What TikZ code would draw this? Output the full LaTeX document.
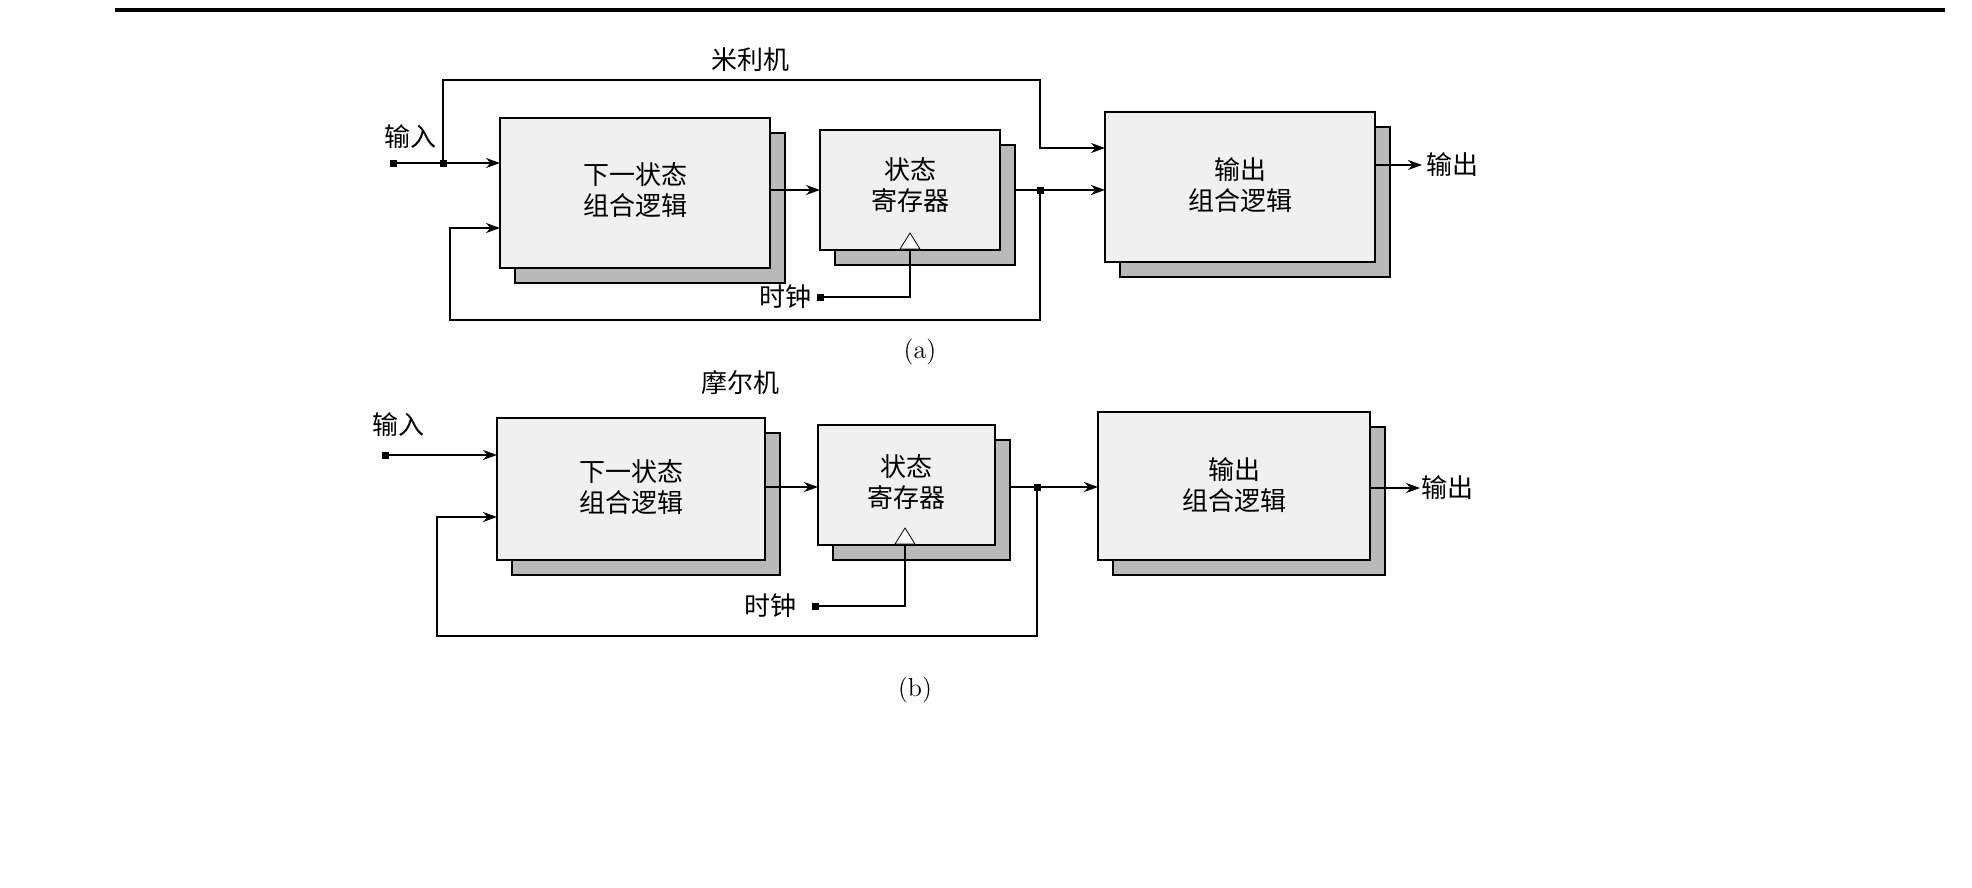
\documentclass[tikz,border=0pt]{standalone}
\usepackage{fontspec}
\newfontfamily\cjk{Noto Sans CJK SC}
\usetikzlibrary{arrows.meta,shapes.geometric}
\begin{document}
\begin{tikzpicture}[x=0.5pt,y=-0.5pt,
  lbl/.style={font=\cjk\fontsize{13}{15.5}\selectfont,inner sep=0pt,align=center},
  front/.style={draw,line width=0.8pt,fill=gray!12},
  shadow/.style={draw,line width=0.8pt,fill=gray!55},
  wire/.style={line width=0.9pt},
  arr/.style={wire,-{Stealth[length=7pt,width=5pt]}},
  sq/.style={draw,fill=black,minimum size=3pt,inner sep=0pt},
  clk/.style={draw,fill=white,isosceles triangle,shape border rotate=90,isosceles triangle stretches,minimum height=8pt,minimum width=10pt,inner sep=0pt}]
\useasboundingbox (0,0) rectangle (1972,888);
\fill[white] (0,0) rectangle (1972,888);
\draw[line width=2pt] (115,10) -- (1945,10);
% ---------- (a)
\node[lbl] (ta) at (750,60) {米利机};
\draw[shadow] (515,133) rectangle (785,283);
\draw[front] (500,118) rectangle (770,268);
\node[lbl] (ns1) at (635,190) {下一状态\\组合逻辑};
\draw[shadow] (835,145) rectangle (1015,265);
\draw[front] (820,130) rectangle (1000,250);
\node[lbl] (sr1) at (910,185) {状态\\寄存器};
\draw[shadow] (1120,127) rectangle (1390,277);
\draw[front] (1105,112) rectangle (1375,262);
\node[lbl] (ol1) at (1240,185) {输出\\组合逻辑};
\node[clk,anchor=north] (tr1) at (910,232) {};
\node[lbl] (in1) at (410,137) {输入};
\node[sq] (is1) at (393,163) {};
\node[sq] (j1) at (443,163) {};
\draw[arr] (is1) -- (500,163);
\draw[arr] (j1) -- (443,80) -- (1040,80) -- (1040,148) -- (1105,148);
\draw[arr] (770,190) -- (820,190);
\node[sq] (j2) at (1040,190) {};
\draw[arr] (1015,190) -- (1105,190);
\draw[arr] (j2) -- (1040,320) -- (450,320) -- (450,228) -- (500,228);
\node[lbl] (ck1) at (785,297) {时钟};
\node[sq] (cs1) at (820,297) {};
\draw[wire] (cs1) -- (910,297) -- (tr1.south);
\draw[arr] (1375,165) -- (1422,165);
\node[lbl] (out1) at (1452,165) {输出};
\node[font=\fontsize{13}{15}\selectfont] (ca) at (920,352) {(a)};
% ---------- (b)
\node[lbl] (tb) at (740,383) {摩尔机};
\draw[shadow] (512,433) rectangle (780,575);
\draw[front] (497,418) rectangle (765,560);
\node[lbl] (ns2) at (631,487) {下一状态\\组合逻辑};
\draw[shadow] (833,440) rectangle (1010,560);
\draw[front] (818,425) rectangle (995,545);
\node[lbl] (sr2) at (906,482) {状态\\寄存器};
\draw[shadow] (1113,427) rectangle (1385,575);
\draw[front] (1098,412) rectangle (1370,560);
\node[lbl] (ol2) at (1234,485) {输出\\组合逻辑};
\node[clk,anchor=north] (tr2) at (905,527) {};
\node[lbl] (in2) at (398,425) {输入};
\node[sq] (is2) at (385,455) {};
\draw[arr] (is2) -- (497,455);
\draw[arr] (765,487) -- (818,487);
\node[sq] (j3) at (1037,487) {};
\draw[arr] (1010,487) -- (1098,487);
\draw[arr] (j3) -- (1037,636) -- (437,636) -- (437,517) -- (497,517);
\node[lbl] (ck2) at (770,606) {时钟};
\node[sq] (cs2) at (815,606) {};
\draw[wire] (cs2) -- (905,606) -- (tr2.south);
\draw[arr] (1370,488) -- (1420,488);
\node[lbl] (out2) at (1447,488) {输出};
\node[font=\fontsize{13}{15}\selectfont] (cb) at (915,690) {(b)};
\end{tikzpicture}
\end{document}
